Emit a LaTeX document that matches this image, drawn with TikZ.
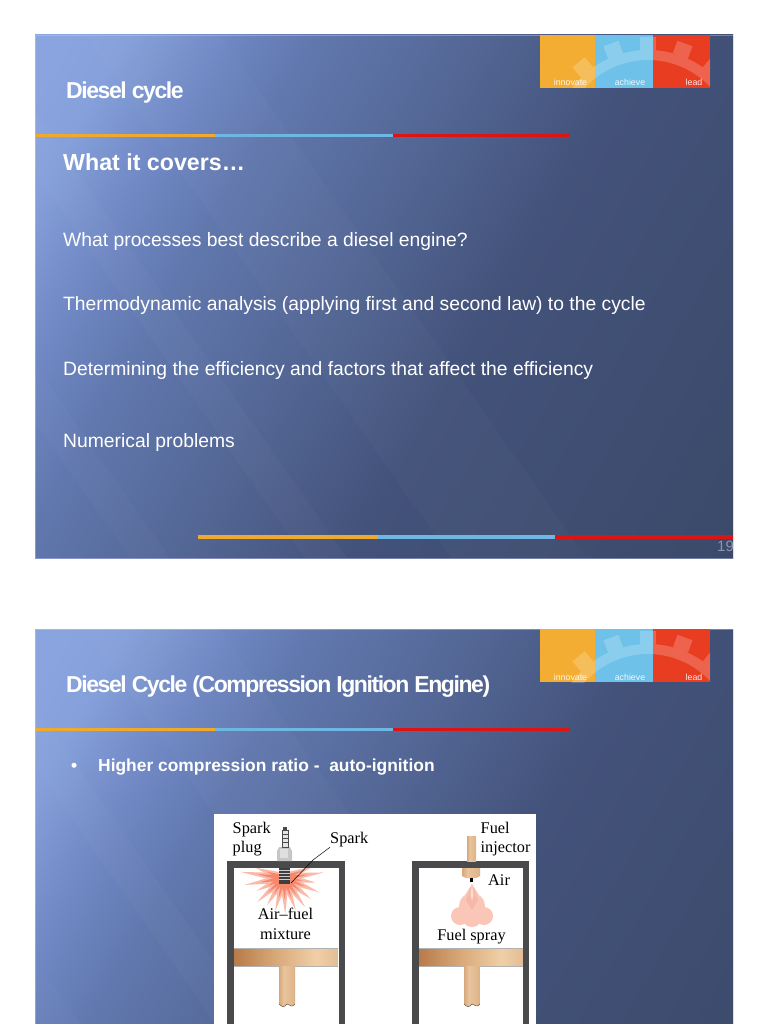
\documentclass[tikz,border=0pt]{standalone}
\usepackage{fontspec}
\setmainfont{Liberation Sans}
\newfontfamily\figfont{Liberation Serif}
\usetikzlibrary{calc}
\definecolor{orangeC}{HTML}{F4AD33}
\definecolor{blueC}{HTML}{6EC1E8}
\definecolor{redC}{HTML}{E93D22}
\definecolor{lineR}{HTML}{DC1414}
\definecolor{lineO}{HTML}{EFA92F}
\definecolor{lineB}{HTML}{6DB7E2}
\definecolor{wallC}{HTML}{4A4A4C}
\definecolor{sa}{HTML}{8AA4DF}
\definecolor{sb}{HTML}{85A0DA}
\definecolor{sc}{HTML}{6F87C3}
\definecolor{sd}{HTML}{6178AE}
\definecolor{se}{HTML}{566A9A}
\definecolor{sg}{HTML}{43527A}
\definecolor{sf}{HTML}{3B4969}
\definecolor{ca}{HTML}{D8A67C}
\definecolor{cb}{HTML}{B87A48}
\definecolor{cc}{HTML}{D8A878}
\definecolor{cd}{HTML}{F0CFA8}
\definecolor{ce}{HTML}{C4905F}
\definecolor{ra}{HTML}{B87A48}
\definecolor{rb}{HTML}{E8C49C}
\definecolor{rc}{HTML}{E0B68C}
\definecolor{rd}{HTML}{A96C3C}
\definecolor{rayO}{HTML}{FBB9A8}
\definecolor{rayI}{HTML}{F6866C}
\definecolor{sprayC}{HTML}{F9C6B8}
\definecolor{sprayI}{HTML}{F5A08C}
\definecolor{pgC}{HTML}{8C96AE}
\pgfdeclarehorizontalshading{slideshade}{100bp}{
 color(0bp)=(sa);
 color(18bp)=(sa);
 color(22bp)=(sb);
 color(29bp)=(sc);
 color(35bp)=(sd);
 color(44bp)=(se);
 color(58bp)=(sg);
 color(85bp)=(sf);
 color(100bp)=(sf)}
\pgfdeclarehorizontalshading{coppershade}{100bp}{
 color(0bp)=(ca);
 color(25bp)=(cb);
 color(45bp)=(cc);
 color(65bp)=(cd);
 color(100bp)=(ce)}
\pgfdeclarehorizontalshading{rodshade}{100bp}{
 color(0bp)=(ra);
 color(40bp)=(rb);
 color(70bp)=(rc);
 color(100bp)=(rd)}
\tikzset{
 x=1pt,y=-1pt,
 bgtext/.style={text=white,anchor=base west,inner sep=0pt,font=\fontsize{19.3}{21}\selectfont},
 titletext/.style={text=white,anchor=base west,inner sep=0pt,font=\fontsize{23}{26}\selectfont\bfseries\addfontfeature{LetterSpace=-6.2}},
 logotext/.style={text=white,opacity=.9,anchor=base,inner sep=0pt,font=\fontsize{8.8}{9}\selectfont},
 figtext/.style={text=black,inner sep=0pt,align=left,font=\fontsize{16.3}{17}\selectfont\figfont},
 wall/.style={draw=wallC,line width=6.5pt,line join=miter},
 copper/.style={shading=coppershade,draw=none},
 rod/.style={shading=rodshade,draw=none},
}
\newcommand{\slideback}[1]{%
 \begin{scope}[shift={(0,#1)}]
  \clip (35,35) rectangle (733,558);
  \fill[shading=slideshade,shading angle=-30] (35,35) rectangle (733,558);
  \fill[white,fill opacity=.02] (85,35) -- (220,35) -- (586,558) -- (451,558) -- cycle;
  \fill[white,fill opacity=.025] (35,112) -- (347,558) -- (305,558) -- (35,172) -- cycle;
  \fill[white,fill opacity=.02] (35,365) -- (170,558) -- (130,558) -- (35,422) -- cycle;
 \end{scope}
 \draw[color=blue!20!white,opacity=.4,line width=.5pt] (35,35+#1) rectangle (733,558+#1);
 % logo
 \begin{scope}[shift={(0,#1)}]
  \fill[orangeC] (540,35) rectangle (595,88);
  \fill[blueC] (595,35) rectangle (653,88);
  \fill[redC] (653,35) rectangle (710,88);
  \begin{scope}
   \clip (540,35) rectangle (710,88);
   \fill[white,opacity=.2,even odd rule] (648,145) circle[radius=95] (648,145) circle[radius=85];
   \foreach \a in {-130,-110,-90,-70,-50}{
     \fill[white,opacity=.2,rotate around={\a+90:(648,145)}] (640,50) rectangle (656,37);
   }
  \end{scope}
 \end{scope}
 % rules
 \draw[lineO,line width=3.5pt] (36,135.5+#1) -- (215,135.5+#1);
 \draw[lineB,line width=3.5pt] (215,135.5+#1) -- (393,135.5+#1);
 \draw[lineR,line width=3.5pt] (393,135.5+#1) -- (570,135.5+#1);
}
\newcommand{\logolabels}[2]{%
 \node[logotext] (#1a) at (570.5,86+#2) {innovate};
 \node[logotext] (#1b) at (630,86+#2) {achieve};
 \node[logotext] (#1c) at (694,86+#2) {lead};
}
\begin{document}
\begin{tikzpicture}
\useasboundingbox (0,0) rectangle (768,1024);
\fill[white] (0,0) rectangle (768,1024);
\begin{scope}
\clip (0,0) rectangle (768,1024);
% ---------- slide 1
\slideback{0}
\logolabels{p}{0}
\node[titletext] (t1) at (66,98.5) {Diesel cycle};
\node[bgtext,font=\fontsize{23.2}{25}\selectfont\bfseries] (h1) at (63,171) {What it covers…};
\node[bgtext] (b1) at (63,247) {What processes best describe a diesel engine?};
\node[bgtext] (b2) at (63,310) {Thermodynamic analysis (applying first and second law) to the cycle};
\node[bgtext] (b3) at (63,375) {Determining the efficiency and factors that affect the efficiency};
\node[bgtext] (b4) at (63,447) {Numerical problems};
\draw[lineO,line width=3.5pt] (198,537) -- (378,537);
\draw[lineB,line width=3.5pt] (378,537) -- (555,537);
\draw[lineR,line width=3.5pt] (555,537) -- (733,537);
\begin{scope}
 \clip (35,35) rectangle (733,558);
 \node[bgtext,text=pgC,font=\fontsize{15}{16}\selectfont] (pg) at (717,551) {19};
\end{scope}
% ---------- slide 2
\slideback{594}
\logolabels{q}{594}
\node[titletext] (t2) at (66,692.5) {Diesel Cycle (Compression Ignition Engine)};
\node[bgtext,font=\fontsize{17.4}{19}\selectfont\bfseries] (bu) at (71,771) {•};
\node[bgtext,font=\fontsize{17.4}{19}\selectfont\bfseries] (s1) at (98,771) {Higher compression ratio -\ \ auto-ignition};
% figure
\fill[white] (214,814) rectangle (536,1030);
% pistons and rods
\foreach \sx/\rodl in {233.5/279,418.5/464}{
  \shade[copper] (\sx,948) rectangle (\sx+104,966);
  \draw[white!70!black,line width=.3pt] (\sx,948) -- (\sx+104,948) (\sx,966) -- (\sx+104,966);
  \path[rod] (\rodl,966) -- (\rodl+16,966) -- (\rodl+16,1004)
     .. controls (\rodl+13,1008) and (\rodl+11,1005) .. (\rodl+8,1004)
     .. controls (\rodl+5,1008) and (\rodl+3,1007) .. (\rodl,1004) -- cycle;
  \draw[wallC!70!brown,line width=.5pt] (\rodl,1004)
     .. controls (\rodl+3,1007) and (\rodl+5,1008) .. (\rodl+8,1004)
     .. controls (\rodl+11,1005) and (\rodl+13,1008) .. (\rodl+16,1004);
}
% spark
\coordinate (spc) at (284,878);
\begin{scope}
 \clip (233.5,868) rectangle (338,948);
 \foreach \a/\l in {-8/40,8/32,22/38,38/34,54/36,70/34,88/36,105/34,122/32,138/36,155/30,170/40,188/44,200/30,-22/32}{
  \fill[rayO] ($(spc)+(\a+90:5)$) -- ($(spc)+(\a:\l)$) -- ($(spc)+(\a-90:5)$) -- cycle;
 }
 \foreach \a/\l in {-8/40,8/32,22/38,38/34,54/36,70/34,88/36,105/34,122/32,138/36,155/30,170/40,188/44,200/30,-22/32}{
  \fill[rayI] ($(spc)+(\a+90:3)$) -- ($(spc)+(\a:\l*.6)$) -- ($(spc)+(\a-90:3)$) -- cycle;
 }
\end{scope}
% spray
\fill[sprayC] (472,884) -- (484,903) -- (460,903) -- cycle;
\foreach \cx/\cy/\r in {472/906/13,460/916/9,484/916/9,472/917/10}{
  \fill[sprayC] (\cx,\cy) circle[radius=\r];
}
\fill[sprayI,opacity=.35] (472,884) -- (478,900) -- (472,910) -- (466,900) -- cycle;
\fill[white,opacity=.5] (472,883) -- (473.5,895) -- (472,901) -- (470.5,895) -- cycle;
% cylinders
\draw[wall] (230.5,1030) -- (230.5,864.5) -- (342,864.5) -- (342,1030);
\draw[wall] (415.5,1030) -- (415.5,864.5) -- (526,864.5) -- (526,1030);
% spark plug
\fill[wallC!85!black] (279,868) rectangle (290,884);
\foreach \y in {870,873,876,879}{\draw[white!60!gray,line width=.4pt] (279,\y) -- (290,\y);}
\fill[white!55!gray] (277,851) -- (279,847) -- (290,847) -- (292,851) -- (292,861) -- (277,861) -- cycle;
\fill[white!75!gray] (280,849) rectangle (288,858);
\fill[white!80!gray,draw=wallC,line width=.5pt] (282,830) rectangle (288,847);
\fill[wallC] (283,827) rectangle (287,831);
\foreach \y in {834,838,842}{\draw[wallC,line width=.5pt] (282,\y) -- (288,\y);}
% injector
\path[rod] (467,836) rectangle (476,861);
\path[rod] (462,868) -- (480,868) -- (480,876) -- (476,878) -- (466,878) -- (462,876) -- cycle;
\fill[black] (470,878) rectangle (473,882);
% labels
\node[figtext,anchor=north west] (spl) at (232.5,821.5) {Spark\\[2.5pt]plug};
\node[figtext,anchor=north west] (spk) at (330,832) {Spark};
\coordinate (spm) at (313,860);
\coordinate (spe) at (291,883);
\draw[black,line width=.5pt] (spk.south west) -- (spm) -- (spe);
\node[figtext,anchor=north west] (fin) at (480.5,821.5) {Fuel\\[2.5pt]injector};
\node[figtext,anchor=north west] (air) at (488,874) {Air};
\node[figtext,anchor=north,align=center] (afm) at (285.5,908) {Air–fuel\\[2.5pt]mixture};
\node[figtext,anchor=north] (fsp) at (471.5,929) {Fuel spray};
\end{scope}
\end{tikzpicture}
\end{document}
